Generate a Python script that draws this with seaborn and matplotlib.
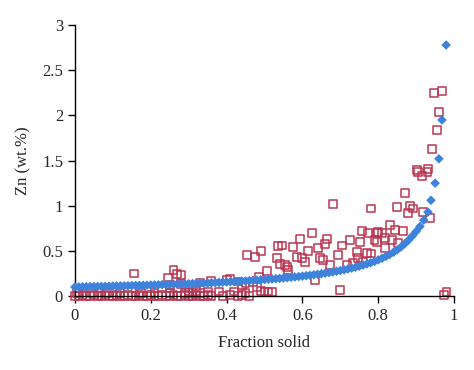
import numpy as np
import pandas as pd
import matplotlib
matplotlib.use("Agg")
import matplotlib.pyplot as plt
import seaborn as sns

# Scheil curve (blue diamonds)
scheil_fs = [0.00, 0.01, 0.02, 0.03, 0.04, 0.05, 0.06, 0.07, 0.08, 0.09,
             0.10, 0.11, 0.12, 0.13, 0.14, 0.15, 0.16, 0.17, 0.18, 0.19,
             0.20, 0.21, 0.22, 0.23, 0.24, 0.25, 0.26, 0.27, 0.28, 0.29,
             0.30, 0.31, 0.32, 0.33, 0.34, 0.35, 0.36, 0.37, 0.38, 0.39,
             0.40, 0.41, 0.42, 0.43, 0.44, 0.45, 0.46, 0.47, 0.48, 0.49,
             0.50, 0.51, 0.52, 0.53, 0.54, 0.55, 0.56, 0.57, 0.58, 0.59,
             0.60, 0.61, 0.62, 0.63, 0.64, 0.65, 0.66, 0.67, 0.68, 0.69,
             0.70, 0.71, 0.72, 0.73, 0.74, 0.75, 0.76, 0.77, 0.78, 0.79,
             0.80, 0.81, 0.82, 0.83, 0.84, 0.85, 0.86, 0.87, 0.88, 0.89,
             0.90, 0.91, 0.92, 0.931, 0.939, 0.95, 0.96, 0.968, 0.979]
scheil_zn = [0.100, 0.101, 0.102, 0.103, 0.104, 0.105, 0.106, 0.106, 0.107, 0.109,
             0.110, 0.111, 0.112, 0.113, 0.114, 0.115, 0.116, 0.117, 0.119, 0.120,
             0.121, 0.123, 0.124, 0.125, 0.127, 0.128, 0.130, 0.131, 0.133, 0.134,
             0.136, 0.138, 0.139, 0.141, 0.143, 0.145, 0.147, 0.149, 0.151, 0.153,
             0.155, 0.158, 0.160, 0.162, 0.165, 0.167, 0.170, 0.173, 0.176, 0.179,
             0.182, 0.185, 0.188, 0.192, 0.195, 0.199, 0.203, 0.207, 0.211, 0.216,
             0.220, 0.225, 0.230, 0.235, 0.241, 0.247, 0.253, 0.260, 0.267, 0.274,
             0.282, 0.290, 0.299, 0.309, 0.319, 0.330, 0.342, 0.355, 0.368, 0.383,
             0.400, 0.418, 0.438, 0.460, 0.484, 0.512, 0.543, 0.579, 0.620, 0.665,
             0.715, 0.770, 0.840, 0.93, 1.06, 1.25, 1.52, 1.95, 2.78]

# measured points (red open squares)
meas_fs = [0.00, 0.01, 0.02, 0.03, 0.04, 0.05, 0.06, 0.07, 0.08, 0.09,
           0.10, 0.11, 0.12, 0.13, 0.14, 0.15, 0.16, 0.17, 0.18, 0.19,
           0.20, 0.21, 0.22, 0.23, 0.24, 0.25, 0.26, 0.27, 0.28, 0.29,
           0.30, 0.31, 0.32, 0.33, 0.34, 0.35, 0.36, 0.39, 0.41, 0.43,
           0.44, 0.46,
           0.005, 0.045, 0.085, 0.12, 0.175, 0.21, 0.25, 0.29, 0.31, 0.33,
           0.30, 0.32, 0.35, 0.38, 0.42, 0.45, 0.49, 0.51, 0.52, 0.48, 0.50,
           0.40, 0.41, 0.36, 0.33, 0.28, 0.25, 0.45, 0.43, 0.47, 0.44,
           0.156, 0.26, 0.27, 0.245, 0.454, 0.475, 0.536, 0.49, 0.533, 0.54,
           0.507, 0.486, 0.28, 0.56,
           0.68, 0.78, 0.625, 0.665, 0.594, 0.757, 0.773, 0.797, 0.726, 0.752,
           0.705, 0.66, 0.64, 0.615, 0.575, 0.546, 0.586, 0.60, 0.607, 0.646,
           0.654, 0.694, 0.744, 0.77, 0.747, 0.76, 0.718, 0.733, 0.673, 0.554,
           0.562, 0.633, 0.70, 0.797,
           0.871, 0.85, 0.884, 0.892, 0.879, 0.918, 0.937, 0.83, 0.845, 0.866,
           0.80, 0.81, 0.818, 0.79, 0.836, 0.852, 0.818, 0.78, 0.974, 0.98,
           0.905, 0.916, 0.93, 0.947, 0.968, 0.96, 0.955, 0.942, 0.902, 0.931]
meas_zn = [0.00, 0.00, 0.01, 0.00, 0.00, 0.01, 0.00, 0.00, 0.01, 0.00,
           0.00, 0.01, 0.00, 0.00, 0.01, 0.00, 0.00, 0.01, 0.00, 0.00,
           0.01, 0.00, 0.00, 0.01, 0.00, 0.00, 0.01, 0.00, 0.00, 0.01,
           0.00, 0.00, 0.01, 0.00, 0.00, 0.01, 0.00, 0.00, 0.01, 0.00,
           0.01, 0.00,
           0.03, 0.03, 0.03, 0.03, 0.03, 0.03, 0.03, 0.03, 0.03, 0.03,
           0.05, 0.06, 0.04, 0.05, 0.05, 0.03, 0.06, 0.05, 0.04, 0.10, 0.04,
           0.18, 0.19, 0.17, 0.15, 0.13, 0.12, 0.14, 0.16, 0.15, 0.12,
           0.25, 0.29, 0.24, 0.20, 0.45, 0.43, 0.55, 0.50, 0.42, 0.35,
           0.28, 0.21, 0.23, 0.32,
           1.02, 0.97, 0.70, 0.63, 0.63, 0.72, 0.70, 0.70, 0.62, 0.60,
           0.56, 0.58, 0.53, 0.50, 0.54, 0.56, 0.43, 0.42, 0.38, 0.42,
           0.40, 0.45, 0.49, 0.48, 0.42, 0.38, 0.34, 0.37, 0.34, 0.34,
           0.29, 0.18, 0.07, 0.60,
           1.14, 0.99, 1.00, 0.97, 0.92, 0.93, 0.86, 0.79, 0.73, 0.72,
           0.71, 0.70, 0.64, 0.62, 0.62, 0.59, 0.53, 0.47, 0.01, 0.04,
           1.37, 1.33, 1.37, 2.25, 2.27, 2.04, 1.84, 1.63, 1.40, 1.41]

sns.set_style("ticks")
plt.rcParams['font.family'] = ['Liberation Serif', 'DejaVu Serif']

meas = pd.DataFrame({"fs": meas_fs, "zn": meas_zn})
scheil = pd.DataFrame({"fs": scheil_fs, "zn": scheil_zn})

fig = plt.figure(figsize=(4.74, 3.70), dpi=100)
ax = fig.add_axes([0.158, 0.2, 0.8, 0.732])

sns.scatterplot(data=meas, x="fs", y="zn", marker="s", s=32,
                facecolor="none", edgecolor="#ba3550", linewidth=1.1,
                ax=ax, zorder=2)
sns.scatterplot(data=scheil, x="fs", y="zn", marker="D", s=24,
                color="#3d83dc", edgecolor="none", ax=ax, zorder=3)

ax.set_xlim(0, 1)
ax.set_ylim(0, 3)
ax.set_xticks([0, 0.2, 0.4, 0.6, 0.8, 1])
ax.set_xticklabels(["0", "0.2", "0.4", "0.6", "0.8", "1"])
ax.set_yticks([0, 0.5, 1, 1.5, 2, 2.5, 3])
ax.set_yticklabels(["0", "0.5", "1", "1.5", "2", "2.5", "3"])
ax.set_xlabel("Fraction solid", fontsize=12, labelpad=8)
ax.set_ylabel("Zn (wt.%)", fontsize=12, labelpad=8)
ax.tick_params(direction="out", length=5, width=1, labelsize=12, color="black")
for sp in ["top", "right"]:
    ax.spines[sp].set_visible(False)
for sp in ["left", "bottom"]:
    ax.spines[sp].set_color("black")
    ax.spines[sp].set_linewidth(1)
ax.collections[0].set_clip_on(False)
ax.collections[1].set_clip_on(False)

fig.savefig("out.png", dpi=100)
